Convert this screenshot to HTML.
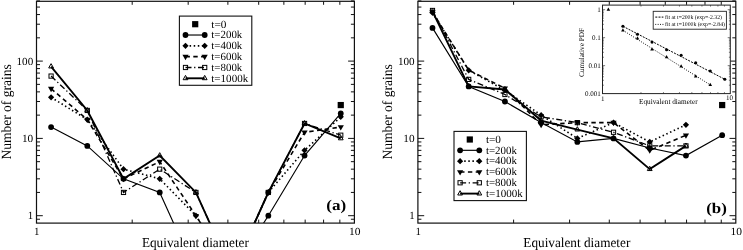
<!DOCTYPE html>
<html lang="en">
<head>
<meta charset="utf-8">
<title>Grain size distributions</title>
<style>
html,body{margin:0;padding:0;background:#fff;}
body{width:743px;height:250px;overflow:hidden;}
svg{display:block;}
text{font-family:"Liberation Serif", "DejaVu Serif", serif;text-rendering:geometricPrecision;}
</style>
</head>
<body>
<svg width="743" height="250" viewBox="0 0 743 250" font-family='"Liberation Serif", "DejaVu Serif", serif'>
<rect width="743" height="250" fill="#fff"/>
<clipPath id="cl"><rect x="36.50" y="1.30" width="317.90" height="221.80"/></clipPath>
<g clip-path="url(#cl)"><path d="M51.09 127.10L87.30 145.89L123.51 178.82L159.72 192.43L195.93 272.50L232.14 272.50L268.34 215.70L304.55 155.55L340.76 113.49" fill="none" stroke="#000" stroke-width="1.15"/>
<circle cx="51.09" cy="127.10" r="2.9" fill="#000"/>
<circle cx="87.30" cy="145.89" r="2.9" fill="#000"/>
<circle cx="123.51" cy="178.82" r="2.9" fill="#000"/>
<circle cx="159.72" cy="192.43" r="2.9" fill="#000"/>
<circle cx="195.93" cy="272.50" r="2.9" fill="#000"/>
<circle cx="232.14" cy="272.50" r="2.9" fill="#000"/>
<circle cx="268.34" cy="215.70" r="2.9" fill="#000"/>
<circle cx="304.55" cy="155.55" r="2.9" fill="#000"/>
<circle cx="340.76" cy="113.49" r="2.9" fill="#000"/>
</g>
<g clip-path="url(#cl)"><path d="M51.09 88.66L87.30 119.61L123.51 178.82L159.72 161.67L195.93 215.70L232.14 272.50L268.34 192.43L304.55 132.28L340.76 127.10" fill="none" stroke="#000" stroke-width="1.6" stroke-dasharray="4.4 3.4"/>
<path d="M47.99 86.86H54.19L51.09 92.16Z" fill="#000"/>
<path d="M84.20 117.81H90.40L87.30 123.11Z" fill="#000"/>
<path d="M120.41 177.02H126.61L123.51 182.32Z" fill="#000"/>
<path d="M156.62 159.87H162.82L159.72 165.17Z" fill="#000"/>
<path d="M192.83 213.90H199.03L195.93 219.20Z" fill="#000"/>
<path d="M229.04 270.70H235.24L232.14 276.00Z" fill="#000"/>
<path d="M265.24 190.63H271.44L268.34 195.93Z" fill="#000"/>
<path d="M301.45 130.48H307.65L304.55 135.78Z" fill="#000"/>
<path d="M337.66 125.30H343.86L340.76 130.60Z" fill="#000"/>
</g>
<g clip-path="url(#cl)"><path d="M51.09 97.32L87.30 119.61L123.51 169.16L159.72 178.82L195.93 215.70L232.14 272.50L268.34 192.43L304.55 150.37L340.76 116.85" fill="none" stroke="#000" stroke-width="1.6" stroke-dasharray="1.5 2.6"/>
<path d="M51.09 94.22L54.19 97.32L51.09 100.42L47.99 97.32Z" fill="#000"/>
<path d="M87.30 116.51L90.40 119.61L87.30 122.71L84.20 119.61Z" fill="#000"/>
<path d="M123.51 166.06L126.61 169.16L123.51 172.26L120.41 169.16Z" fill="#000"/>
<path d="M159.72 175.72L162.82 178.82L159.72 181.92L156.62 178.82Z" fill="#000"/>
<path d="M195.93 212.60L199.03 215.70L195.93 218.80L192.83 215.70Z" fill="#000"/>
<path d="M232.14 269.40L235.24 272.50L232.14 275.60L229.04 272.50Z" fill="#000"/>
<path d="M268.34 189.33L271.44 192.43L268.34 195.53L265.24 192.43Z" fill="#000"/>
<path d="M304.55 147.27L307.65 150.37L304.55 153.47L301.45 150.37Z" fill="#000"/>
<path d="M340.76 113.75L343.86 116.85L340.76 119.95L337.66 116.85Z" fill="#000"/>
</g>
<g clip-path="url(#cl)"><path d="M51.09 76.08L87.30 110.44L123.51 192.43L159.72 169.16L195.93 192.43L232.14 272.50L268.34 192.43L304.55 123.47L340.76 135.20" fill="none" stroke="#000" stroke-width="1.3" stroke-dasharray="6 2.6 1.3 2.6"/>
<rect x="48.99" y="73.98" width="4.2" height="4.2" fill="none" stroke="#000" stroke-width="1"/>
<rect x="85.20" y="108.34" width="4.2" height="4.2" fill="none" stroke="#000" stroke-width="1"/>
<rect x="121.41" y="190.33" width="4.2" height="4.2" fill="none" stroke="#000" stroke-width="1"/>
<rect x="157.62" y="167.06" width="4.2" height="4.2" fill="none" stroke="#000" stroke-width="1"/>
<rect x="193.83" y="190.33" width="4.2" height="4.2" fill="none" stroke="#000" stroke-width="1"/>
<rect x="230.04" y="270.40" width="4.2" height="4.2" fill="none" stroke="#000" stroke-width="1"/>
<rect x="266.24" y="190.33" width="4.2" height="4.2" fill="none" stroke="#000" stroke-width="1"/>
<rect x="302.45" y="121.37" width="4.2" height="4.2" fill="none" stroke="#000" stroke-width="1"/>
<rect x="338.66" y="133.10" width="4.2" height="4.2" fill="none" stroke="#000" stroke-width="1"/>
</g>
<g clip-path="url(#cl)"><path d="M51.09 66.56L87.30 110.44L123.51 178.82L159.72 155.55L195.93 192.43L232.14 272.50L268.34 192.43L304.55 123.47L340.76 138.40" fill="none" stroke="#000" stroke-width="1.9"/>
<path d="M48.69 67.96H53.49L51.09 63.66Z" fill="none" stroke="#000" stroke-width="1" stroke-linejoin="miter"/>
<path d="M84.90 111.84H89.70L87.30 107.54Z" fill="none" stroke="#000" stroke-width="1" stroke-linejoin="miter"/>
<path d="M121.11 180.22H125.91L123.51 175.92Z" fill="none" stroke="#000" stroke-width="1" stroke-linejoin="miter"/>
<path d="M157.32 156.95H162.12L159.72 152.65Z" fill="none" stroke="#000" stroke-width="1" stroke-linejoin="miter"/>
<path d="M193.53 193.83H198.33L195.93 189.53Z" fill="none" stroke="#000" stroke-width="1" stroke-linejoin="miter"/>
<path d="M229.74 273.90H234.54L232.14 269.60Z" fill="none" stroke="#000" stroke-width="1" stroke-linejoin="miter"/>
<path d="M265.94 193.83H270.74L268.34 189.53Z" fill="none" stroke="#000" stroke-width="1" stroke-linejoin="miter"/>
<path d="M302.15 124.87H306.95L304.55 120.57Z" fill="none" stroke="#000" stroke-width="1" stroke-linejoin="miter"/>
<path d="M338.36 139.80H343.16L340.76 135.50Z" fill="none" stroke="#000" stroke-width="1" stroke-linejoin="miter"/>
</g>
<rect x="337.66" y="101.96" width="6.2" height="6.2" fill="#000"/>
<rect x="36.50" y="1.30" width="317.90" height="221.80" fill="none" stroke="#111" stroke-width="1.2"/>
<path d="M36.50 215.70h6.3M354.40 215.70h-6.3M36.50 192.43h3.5M354.40 192.43h-3.5M36.50 178.82h3.5M354.40 178.82h-3.5M36.50 169.16h3.5M354.40 169.16h-3.5M36.50 161.67h3.5M354.40 161.67h-3.5M36.50 155.55h3.5M354.40 155.55h-3.5M36.50 150.37h3.5M354.40 150.37h-3.5M36.50 145.89h3.5M354.40 145.89h-3.5M36.50 141.94h3.5M354.40 141.94h-3.5M36.50 138.40h6.3M354.40 138.40h-6.3M36.50 115.13h3.5M354.40 115.13h-3.5M36.50 101.52h3.5M354.40 101.52h-3.5M36.50 91.86h3.5M354.40 91.86h-3.5M36.50 84.37h3.5M354.40 84.37h-3.5M36.50 78.25h3.5M354.40 78.25h-3.5M36.50 73.07h3.5M354.40 73.07h-3.5M36.50 68.59h3.5M354.40 68.59h-3.5M36.50 64.64h3.5M354.40 64.64h-3.5M36.50 61.10h6.3M354.40 61.10h-6.3M36.50 37.83h3.5M354.40 37.83h-3.5M36.50 24.22h3.5M354.40 24.22h-3.5M36.50 14.56h3.5M354.40 14.56h-3.5M36.50 7.07h3.5M354.40 7.07h-3.5M36.50 0.95h3.5M354.40 0.95h-3.5M36.50 219.24h3.5M354.40 219.24h-3.5M132.20 223.10v-3.5M132.20 1.30v3.5M188.18 223.10v-3.5M188.18 1.30v3.5M227.89 223.10v-3.5M227.89 1.30v3.5M258.70 223.10v-3.5M258.70 1.30v3.5M283.87 223.10v-3.5M283.87 1.30v3.5M305.16 223.10v-3.5M305.16 1.30v3.5M323.59 223.10v-3.5M323.59 1.30v3.5M339.85 223.10v-3.5M339.85 1.30v3.5" stroke="#111" stroke-width="1" fill="none"/>
<text x="33.20" y="64.70" font-size="10.9" text-anchor="end" textLength="16.7" lengthAdjust="spacingAndGlyphs" fill="#000">100</text>
<text x="33.20" y="142.00" font-size="10.9" text-anchor="end" textLength="11.3" lengthAdjust="spacingAndGlyphs" fill="#000">10</text>
<text x="33.20" y="219.30" font-size="10.9" text-anchor="end" fill="#000">1</text>
<text x="36.80" y="234.60" font-size="10.9" text-anchor="middle" fill="#000">1</text>
<text x="354.80" y="234.70" font-size="10.9" text-anchor="middle" textLength="11.5" lengthAdjust="spacingAndGlyphs" fill="#000">10</text>
<text x="195.40" y="246.70" font-size="13.6" text-anchor="middle" textLength="107" lengthAdjust="spacingAndGlyphs" fill="#000">Equivalent diameter</text>
<text x="11.00" y="111.90" font-size="14.0" text-anchor="middle" textLength="95.4" lengthAdjust="spacingAndGlyphs" transform="rotate(-90 11.00 111.90)" fill="#000">Number of grains</text>
<rect x="179.40" y="16.10" width="72.4" height="69.2" fill="#fff" stroke="#111" stroke-width="1.1"/>
<rect x="192.10" y="21.10" width="6.2" height="6.2" fill="#000"/>
<path d="M185.50 35.02H204.70" stroke="#000" stroke-width="1.15" fill="none"/>
<circle cx="185.50" cy="35.02" r="2.9" fill="#000"/>
<circle cx="204.70" cy="35.02" r="2.9" fill="#000"/>
<path d="M185.50 45.84H204.70" stroke="#000" stroke-width="1.6" stroke-dasharray="1.5 2.6" fill="none"/>
<path d="M185.50 42.74L188.60 45.84L185.50 48.94L182.40 45.84Z" fill="#000"/>
<path d="M204.70 42.74L207.80 45.84L204.70 48.94L201.60 45.84Z" fill="#000"/>
<path d="M185.50 56.66H204.70" stroke="#000" stroke-width="1.6" stroke-dasharray="4.4 3.4" fill="none"/>
<path d="M182.40 54.86H188.60L185.50 60.16Z" fill="#000"/>
<path d="M201.60 54.86H207.80L204.70 60.16Z" fill="#000"/>
<path d="M185.50 67.48H204.70" stroke="#000" stroke-width="1.3" stroke-dasharray="6 2.6 1.3 2.6" fill="none"/>
<rect x="183.40" y="65.38" width="4.2" height="4.2" fill="none" stroke="#000" stroke-width="1"/>
<rect x="202.60" y="65.38" width="4.2" height="4.2" fill="none" stroke="#000" stroke-width="1"/>
<path d="M185.50 78.30H204.70" stroke="#000" stroke-width="1.9" fill="none"/>
<path d="M183.10 79.70H187.90L185.50 75.40Z" fill="none" stroke="#000" stroke-width="1" stroke-linejoin="miter"/>
<path d="M202.30 79.70H207.10L204.70 75.40Z" fill="none" stroke="#000" stroke-width="1" stroke-linejoin="miter"/>
<text x="211.30" y="27.50" font-size="11.0" textLength="15.1" lengthAdjust="spacingAndGlyphs" fill="#000">t=0</text>
<text x="211.30" y="38.32" font-size="11.0" textLength="31.0" lengthAdjust="spacingAndGlyphs" fill="#000">t=200k</text>
<text x="211.30" y="49.14" font-size="11.0" textLength="31.0" lengthAdjust="spacingAndGlyphs" fill="#000">t=400k</text>
<text x="211.30" y="59.96" font-size="11.0" textLength="31.0" lengthAdjust="spacingAndGlyphs" fill="#000">t=600k</text>
<text x="211.30" y="70.78" font-size="11.0" textLength="31.0" lengthAdjust="spacingAndGlyphs" fill="#000">t=800k</text>
<text x="211.30" y="81.60" font-size="11.0" textLength="36.9" lengthAdjust="spacingAndGlyphs" fill="#000">t=1000k</text>
<text x="326.30" y="209.80" font-size="14.8" font-weight="bold" textLength="19.9" lengthAdjust="spacingAndGlyphs" fill="#000">(a)</text>
<clipPath id="cr"><rect x="417.90" y="1.30" width="317.90" height="221.80"/></clipPath>
<g clip-path="url(#cr)"><path d="M432.49 27.88L468.70 86.45L504.91 101.52L541.12 122.62L577.33 141.94L613.54 138.40L649.74 148.06L685.95 155.55L722.16 135.20" fill="none" stroke="#000" stroke-width="1.15"/>
<circle cx="432.49" cy="27.88" r="2.9" fill="#000"/>
<circle cx="468.70" cy="86.45" r="2.9" fill="#000"/>
<circle cx="504.91" cy="101.52" r="2.9" fill="#000"/>
<circle cx="541.12" cy="122.62" r="2.9" fill="#000"/>
<circle cx="577.33" cy="141.94" r="2.9" fill="#000"/>
<circle cx="613.54" cy="138.40" r="2.9" fill="#000"/>
<circle cx="649.74" cy="148.06" r="2.9" fill="#000"/>
<circle cx="685.95" cy="155.55" r="2.9" fill="#000"/>
<circle cx="722.16" cy="135.20" r="2.9" fill="#000"/>
</g>
<g clip-path="url(#cr)"><path d="M432.49 12.13L468.70 70.09L504.91 88.28L541.12 124.79L577.33 122.62L613.54 122.62L649.74 150.37L685.95 135.20" fill="none" stroke="#000" stroke-width="1.6" stroke-dasharray="4.4 3.4"/>
<path d="M429.39 10.33H435.59L432.49 15.63Z" fill="#000"/>
<path d="M501.81 86.48H508.01L504.91 91.78Z" fill="#000"/>
<path d="M538.02 122.99H544.22L541.12 128.29Z" fill="#000"/>
<path d="M574.23 120.82H580.43L577.33 126.12Z" fill="#000"/>
<path d="M610.44 120.82H616.64L613.54 126.12Z" fill="#000"/>
<path d="M646.64 148.57H652.84L649.74 153.87Z" fill="#000"/>
<path d="M682.85 133.40H689.05L685.95 138.70Z" fill="#000"/>
</g>
<g clip-path="url(#cr)"><path d="M432.49 12.76L468.70 70.31L504.91 90.22L541.12 115.13L577.33 138.40L613.54 122.62L649.74 141.94L685.95 124.79" fill="none" stroke="#000" stroke-width="1.6" stroke-dasharray="1.5 2.6"/>
<path d="M432.49 9.66L435.59 12.76L432.49 15.86L429.39 12.76Z" fill="#000"/>
<path d="M468.70 67.21L471.80 70.31L468.70 73.41L465.60 70.31Z" fill="#000"/>
<path d="M504.91 87.12L508.01 90.22L504.91 93.32L501.81 90.22Z" fill="#000"/>
<path d="M541.12 112.03L544.22 115.13L541.12 118.23L538.02 115.13Z" fill="#000"/>
<path d="M577.33 135.30L580.43 138.40L577.33 141.50L574.23 138.40Z" fill="#000"/>
<path d="M613.54 119.52L616.64 122.62L613.54 125.72L610.44 122.62Z" fill="#000"/>
<path d="M649.74 138.84L652.84 141.94L649.74 145.04L646.64 141.94Z" fill="#000"/>
<path d="M685.95 121.69L689.05 124.79L685.95 127.89L682.85 124.79Z" fill="#000"/>
</g>
<g clip-path="url(#cr)"><path d="M432.49 10.46L468.70 79.39L504.91 94.48L541.12 116.85L577.33 122.62L613.54 132.28L649.74 145.89L685.95 145.89" fill="none" stroke="#000" stroke-width="1.3" stroke-dasharray="6 2.6 1.3 2.6"/>
<rect x="430.39" y="8.36" width="4.2" height="4.2" fill="none" stroke="#000" stroke-width="1"/>
<rect x="466.60" y="77.29" width="4.2" height="4.2" fill="none" stroke="#000" stroke-width="1"/>
<rect x="502.81" y="92.38" width="4.2" height="4.2" fill="none" stroke="#000" stroke-width="1"/>
<rect x="539.02" y="114.75" width="4.2" height="4.2" fill="none" stroke="#000" stroke-width="1"/>
<rect x="575.23" y="120.52" width="4.2" height="4.2" fill="none" stroke="#000" stroke-width="1"/>
<rect x="611.44" y="130.18" width="4.2" height="4.2" fill="none" stroke="#000" stroke-width="1"/>
<rect x="647.64" y="143.79" width="4.2" height="4.2" fill="none" stroke="#000" stroke-width="1"/>
<rect x="683.85" y="143.79" width="4.2" height="4.2" fill="none" stroke="#000" stroke-width="1"/>
</g>
<g clip-path="url(#cr)"><path d="M432.49 11.36L468.70 86.45L504.91 89.43L541.12 120.59L577.33 129.59L613.54 138.40L649.74 169.16L685.95 145.89" fill="none" stroke="#000" stroke-width="1.9"/>
<path d="M430.09 12.76H434.89L432.49 8.46Z" fill="none" stroke="#000" stroke-width="1" stroke-linejoin="miter"/>
<path d="M466.30 87.85H471.10L468.70 83.55Z" fill="none" stroke="#000" stroke-width="1" stroke-linejoin="miter"/>
<path d="M502.51 90.83H507.31L504.91 86.53Z" fill="none" stroke="#000" stroke-width="1" stroke-linejoin="miter"/>
<path d="M538.72 121.99H543.52L541.12 117.69Z" fill="none" stroke="#000" stroke-width="1" stroke-linejoin="miter"/>
<path d="M574.93 130.99H579.73L577.33 126.69Z" fill="none" stroke="#000" stroke-width="1" stroke-linejoin="miter"/>
<path d="M611.14 139.80H615.94L613.54 135.50Z" fill="none" stroke="#000" stroke-width="1" stroke-linejoin="miter"/>
<path d="M647.34 170.56H652.14L649.74 166.26Z" fill="none" stroke="#000" stroke-width="1" stroke-linejoin="miter"/>
<path d="M683.55 147.29H688.35L685.95 142.99Z" fill="none" stroke="#000" stroke-width="1" stroke-linejoin="miter"/>
</g>
<rect x="719.06" y="101.96" width="6.2" height="6.2" fill="#000"/>
<rect x="417.90" y="1.30" width="317.90" height="221.80" fill="none" stroke="#111" stroke-width="1.2"/>
<path d="M417.90 215.70h6.3M735.80 215.70h-6.3M417.90 192.43h3.5M735.80 192.43h-3.5M417.90 178.82h3.5M735.80 178.82h-3.5M417.90 169.16h3.5M735.80 169.16h-3.5M417.90 161.67h3.5M735.80 161.67h-3.5M417.90 155.55h3.5M735.80 155.55h-3.5M417.90 150.37h3.5M735.80 150.37h-3.5M417.90 145.89h3.5M735.80 145.89h-3.5M417.90 141.94h3.5M735.80 141.94h-3.5M417.90 138.40h6.3M735.80 138.40h-6.3M417.90 115.13h3.5M735.80 115.13h-3.5M417.90 101.52h3.5M735.80 101.52h-3.5M417.90 91.86h3.5M735.80 91.86h-3.5M417.90 84.37h3.5M735.80 84.37h-3.5M417.90 78.25h3.5M735.80 78.25h-3.5M417.90 73.07h3.5M735.80 73.07h-3.5M417.90 68.59h3.5M735.80 68.59h-3.5M417.90 64.64h3.5M735.80 64.64h-3.5M417.90 61.10h6.3M735.80 61.10h-6.3M417.90 37.83h3.5M735.80 37.83h-3.5M417.90 24.22h3.5M735.80 24.22h-3.5M417.90 14.56h3.5M735.80 14.56h-3.5M417.90 7.07h3.5M735.80 7.07h-3.5M417.90 0.95h3.5M735.80 0.95h-3.5M417.90 219.24h3.5M735.80 219.24h-3.5M513.60 223.10v-3.5M513.60 1.30v3.5M569.58 223.10v-3.5M569.58 1.30v3.5M609.29 223.10v-3.5M609.29 1.30v3.5M640.10 223.10v-3.5M640.10 1.30v3.5M665.27 223.10v-3.5M665.27 1.30v3.5M686.56 223.10v-3.5M686.56 1.30v3.5M704.99 223.10v-3.5M704.99 1.30v3.5M721.25 223.10v-3.5M721.25 1.30v3.5" stroke="#111" stroke-width="1" fill="none"/>
<text x="414.60" y="64.70" font-size="10.9" text-anchor="end" textLength="16.7" lengthAdjust="spacingAndGlyphs" fill="#000">100</text>
<text x="414.60" y="142.00" font-size="10.9" text-anchor="end" textLength="11.3" lengthAdjust="spacingAndGlyphs" fill="#000">10</text>
<text x="414.60" y="219.30" font-size="10.9" text-anchor="end" fill="#000">1</text>
<text x="418.20" y="234.60" font-size="10.9" text-anchor="middle" fill="#000">1</text>
<text x="736.20" y="234.70" font-size="10.9" text-anchor="middle" textLength="11.5" lengthAdjust="spacingAndGlyphs" fill="#000">10</text>
<text x="576.80" y="246.70" font-size="13.6" text-anchor="middle" textLength="107" lengthAdjust="spacingAndGlyphs" fill="#000">Equivalent diameter</text>
<text x="392.40" y="111.90" font-size="14.0" text-anchor="middle" textLength="95.4" lengthAdjust="spacingAndGlyphs" transform="rotate(-90 392.40 111.90)" fill="#000">Number of grains</text>
<rect x="454.00" y="131.40" width="72.4" height="69.2" fill="#fff" stroke="#111" stroke-width="1.1"/>
<rect x="466.70" y="136.40" width="6.2" height="6.2" fill="#000"/>
<path d="M460.10 150.32H479.30" stroke="#000" stroke-width="1.15" fill="none"/>
<circle cx="460.10" cy="150.32" r="2.9" fill="#000"/>
<circle cx="479.30" cy="150.32" r="2.9" fill="#000"/>
<path d="M460.10 161.14H479.30" stroke="#000" stroke-width="1.6" stroke-dasharray="1.5 2.6" fill="none"/>
<path d="M460.10 158.04L463.20 161.14L460.10 164.24L457.00 161.14Z" fill="#000"/>
<path d="M479.30 158.04L482.40 161.14L479.30 164.24L476.20 161.14Z" fill="#000"/>
<path d="M460.10 171.96H479.30" stroke="#000" stroke-width="1.6" stroke-dasharray="4.4 3.4" fill="none"/>
<path d="M457.00 170.16H463.20L460.10 175.46Z" fill="#000"/>
<path d="M476.20 170.16H482.40L479.30 175.46Z" fill="#000"/>
<path d="M460.10 182.78H479.30" stroke="#000" stroke-width="1.3" stroke-dasharray="6 2.6 1.3 2.6" fill="none"/>
<rect x="458.00" y="180.68" width="4.2" height="4.2" fill="none" stroke="#000" stroke-width="1"/>
<rect x="477.20" y="180.68" width="4.2" height="4.2" fill="none" stroke="#000" stroke-width="1"/>
<path d="M460.10 193.60H479.30" stroke="#000" stroke-width="1.9" fill="none"/>
<path d="M457.70 195.00H462.50L460.10 190.70Z" fill="none" stroke="#000" stroke-width="1" stroke-linejoin="miter"/>
<path d="M476.90 195.00H481.70L479.30 190.70Z" fill="none" stroke="#000" stroke-width="1" stroke-linejoin="miter"/>
<text x="485.90" y="142.80" font-size="11.0" textLength="15.1" lengthAdjust="spacingAndGlyphs" fill="#000">t=0</text>
<text x="485.90" y="153.62" font-size="11.0" textLength="31.0" lengthAdjust="spacingAndGlyphs" fill="#000">t=200k</text>
<text x="485.90" y="164.44" font-size="11.0" textLength="31.0" lengthAdjust="spacingAndGlyphs" fill="#000">t=400k</text>
<text x="485.90" y="175.26" font-size="11.0" textLength="31.0" lengthAdjust="spacingAndGlyphs" fill="#000">t=600k</text>
<text x="485.90" y="186.08" font-size="11.0" textLength="31.0" lengthAdjust="spacingAndGlyphs" fill="#000">t=800k</text>
<text x="485.90" y="196.90" font-size="11.0" textLength="36.9" lengthAdjust="spacingAndGlyphs" fill="#000">t=1000k</text>
<text x="706.20" y="212.90" font-size="14.8" font-weight="bold" textLength="20.6" lengthAdjust="spacingAndGlyphs" fill="#000">(b)</text>
<rect x="602.5" y="5.1" width="127.80" height="88.50" fill="#fff" stroke="#222" stroke-width="1"/>
<path d="M602.5 9.70h2.6M730.3 9.70h-2.6M602.5 37.67h2.6M730.3 37.67h-2.6M602.5 29.25h1.4M730.3 29.25h-1.4M602.5 24.32h1.4M730.3 24.32h-1.4M602.5 20.83h1.4M730.3 20.83h-1.4M602.5 18.12h1.4M730.3 18.12h-1.4M602.5 15.91h1.4M730.3 15.91h-1.4M602.5 14.03h1.4M730.3 14.03h-1.4M602.5 12.41h1.4M730.3 12.41h-1.4M602.5 10.98h1.4M730.3 10.98h-1.4M602.5 65.64h2.6M730.3 65.64h-2.6M602.5 57.22h1.4M730.3 57.22h-1.4M602.5 52.29h1.4M730.3 52.29h-1.4M602.5 48.80h1.4M730.3 48.80h-1.4M602.5 46.09h1.4M730.3 46.09h-1.4M602.5 43.88h1.4M730.3 43.88h-1.4M602.5 42.00h1.4M730.3 42.00h-1.4M602.5 40.38h1.4M730.3 40.38h-1.4M602.5 38.95h1.4M730.3 38.95h-1.4M602.5 85.19h1.4M730.3 85.19h-1.4M602.5 80.26h1.4M730.3 80.26h-1.4M602.5 76.77h1.4M730.3 76.77h-1.4M602.5 74.06h1.4M730.3 74.06h-1.4M602.5 71.85h1.4M730.3 71.85h-1.4M602.5 69.97h1.4M730.3 69.97h-1.4M602.5 68.35h1.4M730.3 68.35h-1.4M602.5 66.92h1.4M730.3 66.92h-1.4M640.97 93.6v-1.5M640.97 5.1v1.5M663.48 93.6v-1.5M663.48 5.1v1.5M679.44 93.6v-1.5M679.44 5.1v1.5M691.83 93.6v-1.5M691.83 5.1v1.5M701.95 93.6v-1.5M701.95 5.1v1.5M710.50 93.6v-1.5M710.50 5.1v1.5M717.91 93.6v-1.5M717.91 5.1v1.5M724.45 93.6v-1.5M724.45 5.1v1.5" stroke="#222" stroke-width="0.6" fill="none"/>
<path d="M622.92 26.3L724.82 79.3" stroke="#000" stroke-width="1" stroke-dasharray="2 1.2" fill="none"/>
<path d="M622.92 30.3L710.26 84.9" stroke="#000" stroke-width="1" stroke-dasharray="0.9 1.5" fill="none"/>
<circle cx="622.92" cy="26.3" r="1.55" fill="#000"/>
<circle cx="637.48" cy="34.2" r="1.55" fill="#000"/>
<circle cx="652.04" cy="42.1" r="1.55" fill="#000"/>
<circle cx="666.59" cy="49.7" r="1.55" fill="#000"/>
<circle cx="681.15" cy="55.3" r="1.55" fill="#000"/>
<circle cx="695.70" cy="62.8" r="1.55" fill="#000"/>
<circle cx="710.26" cy="71.0" r="1.55" fill="#000"/>
<circle cx="724.82" cy="79.3" r="1.55" fill="#000"/>
<path d="M606.57 10.80H610.17L608.37 7.60Z" fill="#000"/>
<path d="M621.12 31.40H624.72L622.92 28.20Z" fill="#000"/>
<path d="M635.68 39.50H639.28L637.48 36.30Z" fill="#000"/>
<path d="M650.24 50.50H653.84L652.04 47.30Z" fill="#000"/>
<path d="M664.79 58.30H668.39L666.59 55.10Z" fill="#000"/>
<path d="M679.35 67.40H682.95L681.15 64.20Z" fill="#000"/>
<path d="M693.90 77.40H697.50L695.70 74.20Z" fill="#000"/>
<path d="M708.46 86.00H712.06L710.26 82.80Z" fill="#000"/>
<rect x="653.2" y="11.3" width="73.2" height="17.9" fill="#fff" stroke="#222" stroke-width="0.9"/>
<path d="M655.3 17.1H663.4" stroke="#000" stroke-width="1" stroke-dasharray="2 1.2" fill="none"/>
<path d="M655.3 24.4H663.4" stroke="#000" stroke-width="1" stroke-dasharray="0.9 1.5" fill="none"/>
<text x="665.00" y="19.00" font-size="5.8" textLength="57" lengthAdjust="spacingAndGlyphs" fill="#000">fit at t=200k (exp=-2.32)</text>
<text x="665.00" y="26.30" font-size="5.8" textLength="60" lengthAdjust="spacingAndGlyphs" fill="#000">fit at t=1000k (exp=-2.84)</text>
<text x="600.80" y="12.00" font-size="7.0" text-anchor="end" fill="#000">1</text>
<text x="600.80" y="39.97" font-size="7.0" text-anchor="end" fill="#000">0.1</text>
<text x="600.80" y="67.94" font-size="7.0" text-anchor="end" fill="#000">0.01</text>
<text x="600.80" y="95.91" font-size="7.0" text-anchor="end" fill="#000">0.001</text>
<text x="602.70" y="100.80" font-size="7.0" text-anchor="middle" fill="#000">1</text>
<text x="729.50" y="100.20" font-size="7.0" text-anchor="middle" fill="#000">10</text>
<text x="668.30" y="104.30" font-size="7.6" text-anchor="middle" textLength="58.5" lengthAdjust="spacingAndGlyphs" fill="#000">Equivalent diameter</text>
<text x="584.30" y="52.40" font-size="7.3" text-anchor="middle" textLength="49" lengthAdjust="spacingAndGlyphs" transform="rotate(-90 584.30 52.40)" fill="#000">Cumulative PDF</text>
</svg>
</body>
</html>
